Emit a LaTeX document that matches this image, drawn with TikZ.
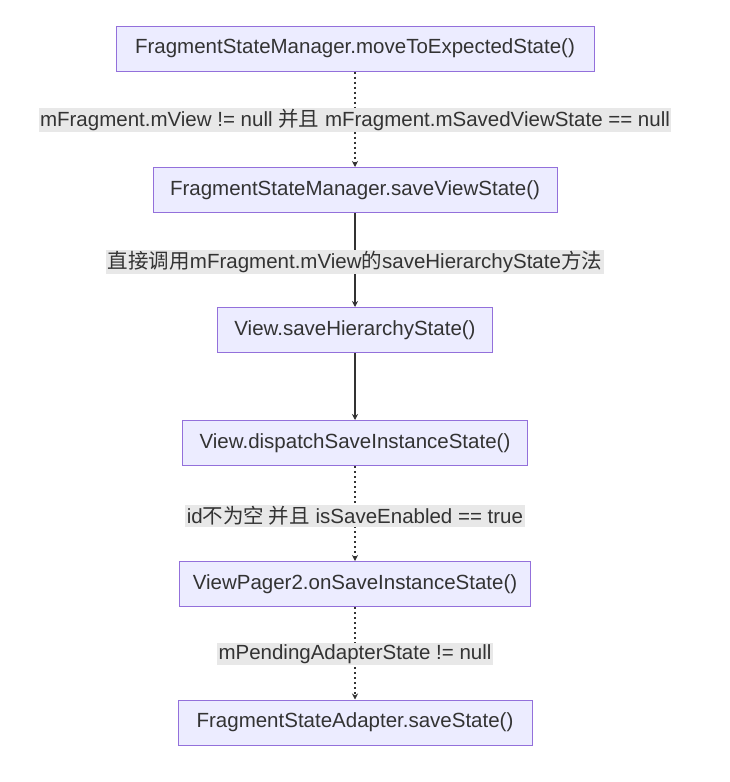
\documentclass[tikz,border=0pt]{standalone}
\usepackage{fontspec}
\usetikzlibrary{arrows.meta}
\setmainfont{Liberation Sans}
\newfontfamily\cjk{Noto Sans CJK SC}
\definecolor{boxfill}{HTML}{ECECFF}
\definecolor{boxline}{HTML}{9370DB}
\definecolor{txt}{HTML}{333333}
\definecolor{lblbg}{HTML}{E8E8E8}
\begin{document}
\begin{tikzpicture}[x=1pt,y=-1pt,
  box/.style={draw=boxline,fill=boxfill,line width=1pt,text=txt,font=\fontsize{20.5}{22}\selectfont,inner sep=0pt,minimum height=45pt},
  lbl/.style={fill=lblbg,text=txt,font=\fontsize{20.5}{22}\selectfont,inner sep=1.5pt},
  dot/.style={draw=txt,line width=1.6pt,dash pattern=on 2pt off 3pt,-{Stealth[length=6pt,width=6pt]}},
  sol/.style={draw=txt,line width=2pt,-{Stealth[length=6pt,width=6pt]}}]
\useasboundingbox (0,0) rectangle (730,782);
\node[box,minimum width=478pt] (a) at (355,48.5) {FragmentStateManager.moveToExpectedState()};
\node[box,minimum width=404pt] (b) at (355,190) {FragmentStateManager.saveViewState()};
\node[box,minimum width=275pt] (c) at (355,330) {View.saveHierarchyState()};
\node[box,minimum width=345pt] (d) at (355,443) {View.dispatchSaveInstanceState()};
\node[box,minimum width=351pt] (e) at (355,584) {ViewPager2.onSaveInstanceState()};
\node[box,minimum width=354pt] (f) at (355,722.5) {FragmentStateAdapter.saveState()};
\draw[dot] (a) -- (b);
\draw[sol] (b) -- (c);
\draw[sol] (c) -- (d);
\draw[dot] (d) -- (e);
\draw[dot] (e) -- (f);
\node[lbl] (la) at (355,120) {mFragment.mView != null {\cjk 并且} mFragment.mSavedViewState == null};
\node[lbl] (lb) at (355,262) {{\cjk 直接调用}mFragment.mView{\cjk 的}saveHierarchyState{\cjk 方法}};
\node[lbl] (ld) at (355,516) {id{\cjk 不为空 并且} isSaveEnabled == true};
\node[lbl] (le) at (355,654) {mPendingAdapterState != null};
\end{tikzpicture}
\end{document}
